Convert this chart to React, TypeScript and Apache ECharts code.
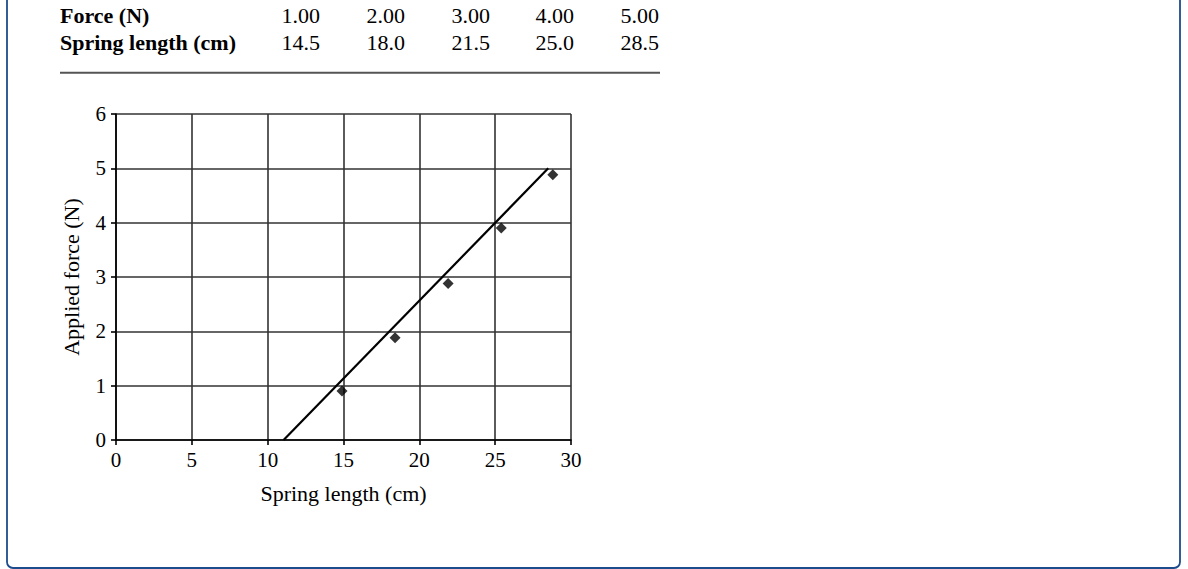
import React, { useEffect, useRef } from "react";
import * as echarts from "echarts";

// Table data
const forceN = [1.0, 2.0, 3.0, 4.0, 5.0];
const springLengthCm = [14.5, 18.0, 21.5, 25.0, 28.5];
const tableRowLabels = ["Force (N)", "Spring length (cm)"];

// Plotted points
const pointLength = [14.9, 18.4, 21.9, 25.4, 28.8];
const pointForce = [0.9, 1.88, 2.88, 3.9, 4.88];

// Best-fit line end points
const fitLength = [11.05, 28.5];
const fitForce = [0, 5];

// Axes
const xMin = 0, xMax = 30, xStep = 5;
const yMin = 0, yMax = 6, yStep = 1;
const xTitle = "Spring length (cm)";
const yTitle = "Applied force (N)";

const SERIF = "'Liberation Serif', 'Times New Roman', serif";

export default function App() {
  const ref = useRef<HTMLDivElement>(null);
  useEffect(() => {
    if (!ref.current) return;
    const chart = echarts.init(ref.current, null, { renderer: "svg" });
    const colX = [320, 405, 490, 574, 659];
    const rowY = [15.5, 42];
    const texts: any[] = [];
    tableRowLabels.forEach((t, i) => {
      texts.push({
        type: "text",
        x: 60,
        y: rowY[i],
        style: {
          text: t,
          fontSize: 22,
          fontFamily: SERIF,
          fontWeight: "bold",
          fill: "#000",
          align: "left",
          verticalAlign: "middle",
        },
      });
    });
    forceN.forEach((v, i) => {
      texts.push({
        type: "text",
        x: colX[i],
        y: rowY[0],
        style: { text: v.toFixed(2), fontSize: 22, fontFamily: SERIF, fill: "#000", align: "right", verticalAlign: "middle" },
      });
    });
    springLengthCm.forEach((v, i) => {
      texts.push({
        type: "text",
        x: colX[i],
        y: rowY[1],
        style: { text: v.toFixed(1), fontSize: 22, fontFamily: SERIF, fill: "#000", align: "right", verticalAlign: "middle" },
      });
    });

    chart.setOption({
      animation: false,
      backgroundColor: "#fff",
      graphic: {
        elements: [
          {
            type: "rect",
            shape: { x: 7, y: -20, width: 1173, height: 588, r: 6 },
            style: { fill: "none", stroke: "#1d4c8c", lineWidth: 1.8 },
          },
          {
            type: "line",
            shape: { x1: 60, y1: 72.7, x2: 660, y2: 72.7 },
            style: { stroke: "#555", lineWidth: 2 },
          },
          ...texts,
        ],
      },
      grid: { left: 116, top: 114, right: 1188 - 571, bottom: 569 - 440, containLabel: false },
      xAxis: {
        type: "value",
        min: xMin,
        max: xMax,
        interval: xStep,
        name: xTitle,
        nameLocation: "middle",
        nameGap: 42,
        nameTextStyle: { fontSize: 22, fontFamily: SERIF, color: "#000" },
        axisLine: { show: true, onZero: false, lineStyle: { color: "#000", width: 1.6 } },
        axisTick: { show: true, length: 5, lineStyle: { color: "#000", width: 1.6 } },
        axisLabel: { fontSize: 21, fontFamily: SERIF, color: "#000", margin: 9 },
        splitLine: { show: true, lineStyle: { color: "#333", width: 1.6 } },
      },
      yAxis: {
        type: "value",
        min: yMin,
        max: yMax,
        interval: yStep,
        name: yTitle,
        nameLocation: "middle",
        nameGap: 34,
        nameTextStyle: { fontSize: 22, fontFamily: SERIF, color: "#000" },
        axisLine: { show: true, onZero: false, lineStyle: { color: "#000", width: 1.6 } },
        axisTick: { show: true, length: 5, lineStyle: { color: "#000", width: 1.6 } },
        axisLabel: { fontSize: 21, fontFamily: SERIF, color: "#000", margin: 10 },
        splitLine: { show: true, lineStyle: { color: "#333", width: 1.6 } },
      },
      series: [
        {
          type: "line",
          data: fitLength.map((x, i) => [x, fitForce[i]]),
          showSymbol: false,
          symbol: "none",
          lineStyle: { color: "#000", width: 2.2 },
          silent: true,
          z: 3,
        },
        {
          type: "scatter",
          data: pointLength.map((x, i) => [x, pointForce[i]]),
          symbol: "diamond",
          symbolSize: 11,
          itemStyle: { color: "#000" },
          z: 4,
        },
      ],
    });
    return () => chart.dispose();
  }, []);
  return (
    <div
      ref={ref}
      style={{ position: "absolute", left: 0, top: 0, width: 1188, height: 569 }}
    />
  );
}
